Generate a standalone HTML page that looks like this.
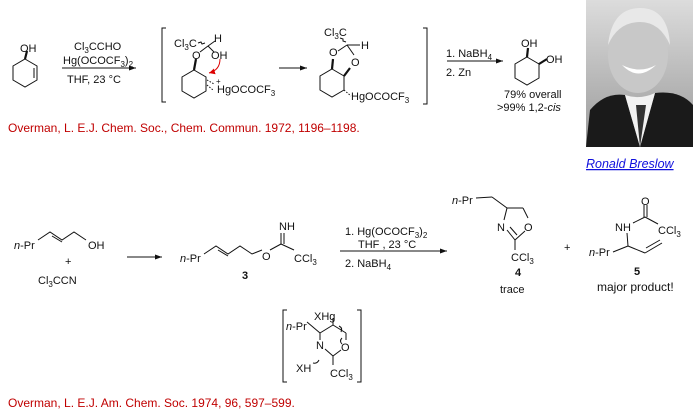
<!DOCTYPE html>
<html><head><meta charset="utf-8"><style>
html,body{margin:0;padding:0;background:#fff;}
svg{display:block;}
text{font-family:"Liberation Sans",Arial,sans-serif;font-size:11px;fill:#111;}
.s{font-size:8px;}
.r{fill:#c00000;font-size:12px;}
</style></head><body>
<svg width="700" height="413" viewBox="0 0 700 413" xmlns="http://www.w3.org/2000/svg">
<defs>
<marker id="ah" markerWidth="8" markerHeight="6" refX="7" refY="3" orient="auto"><path d="M0,0.5 L7,3 L0,5.5 Z" fill="#111"/></marker>
<marker id="rh" markerWidth="7" markerHeight="6" refX="6" refY="3" orient="auto"><path d="M0,0 L6,3 L0,6 Z" fill="#d00"/></marker>
<linearGradient id="bg" x1="0" y1="0" x2="0" y2="1"><stop offset="0" stop-color="#dcdcdc"/><stop offset="1" stop-color="#9a9a9a"/></linearGradient>
</defs>
<g stroke="#111" stroke-width="1" fill="none">
<polygon points="25,59 37,66 37,80 25,87 13,80 13,66"/>
<line x1="34" y1="68" x2="34" y2="78"/>
<line x1="25" y1="59" x2="27" y2="51" stroke-width="2.2"/>
<line x1="62" y1="68" x2="136" y2="68" marker-end="url(#ah)"/>
<polyline points="166,28 162,28 162,102 166,102"/>
<polygon points="194,70 206,77 206,91 194,98 182,91 182,77"/>
<line x1="194" y1="70" x2="196" y2="59" stroke-width="2.2"/>
<line x1="200" y1="52" x2="208" y2="46"/>
<line x1="208" y1="46" x2="215" y2="41"/>
<line x1="208" y1="46" x2="214" y2="52"/>
<path d="M198,43 l3,-1 l1,2 l3,-1" />
<line x1="207" y1="80" x2="214" y2="84" stroke-dasharray="1.5,1.5"/>
<line x1="207" y1="85" x2="213" y2="90" stroke-dasharray="1.5,1.5"/>
<path d="M220,59 Q220,70 209,73" stroke="#d00" marker-end="url(#rh)"/>
<line x1="279" y1="68" x2="307" y2="68" marker-end="url(#ah)"/>
<polygon points="332,69 344,76 344,90 332,97 320,90 320,76"/>
<line x1="332" y1="69" x2="333" y2="59" stroke-width="2.2"/>
<line x1="344" y1="76" x2="350" y2="68" stroke-width="2.2"/>
<line x1="338" y1="51" x2="347" y2="45"/>
<line x1="347" y1="45" x2="354" y2="55"/>
<line x1="347" y1="45" x2="360" y2="45"/>
<path d="M340,38 l3,1 l0,2 l3,1"/>
<line x1="344" y1="90" x2="351" y2="96" stroke-dasharray="1.5,1.5"/>
<polyline points="423,28 427,28 427,104 423,104"/>
<line x1="447" y1="61" x2="503" y2="61" marker-end="url(#ah)"/>
<polygon points="527,57 539,64 539,78 527,85 515,78 515,64"/>
<line x1="527" y1="57" x2="528" y2="48" stroke-width="2.2"/>
<line x1="539" y1="64" x2="547" y2="59" stroke-width="2.2"/>
<polyline points="38,240 50,232 62,240 74,232 86,240"/>
<line x1="52" y1="236" x2="62" y2="242"/>
<line x1="127" y1="257" x2="162" y2="257" marker-end="url(#ah)"/>
<polyline points="204,254 216,246 228,254 240,246 252,254 262,250"/>
<line x1="218" y1="250" x2="228" y2="256"/>
<line x1="270" y1="250" x2="281" y2="244"/>
<line x1="281" y1="244" x2="294" y2="250"/>
<line x1="281" y1="244" x2="281" y2="233"/>
<line x1="284" y1="244" x2="284" y2="233"/>
<line x1="340" y1="251" x2="447" y2="251" marker-end="url(#ah)"/>
<!-- compound 4 -->
<line x1="476" y1="198" x2="492" y2="197"/>
<line x1="492" y1="197" x2="507" y2="208"/>
<line x1="507" y1="208" x2="523" y2="208"/>
<line x1="523" y1="208" x2="528" y2="218"/>
<line x1="507" y1="208" x2="504" y2="220"/>
<line x1="507" y1="230" x2="515" y2="240"/>
<line x1="510" y1="227" x2="517" y2="235"/>
<line x1="515" y1="240" x2="525" y2="231"/>
<line x1="515" y1="240" x2="515" y2="250"/>
<!-- compound 5 -->
<line x1="644" y1="205" x2="644" y2="217"/>
<line x1="647" y1="205" x2="647" y2="217"/>
<line x1="645" y1="217" x2="633" y2="223"/>
<line x1="645" y1="217" x2="658" y2="224"/>
<line x1="627" y1="233" x2="628" y2="246"/>
<line x1="628" y1="246" x2="613" y2="252"/>
<line x1="628" y1="246" x2="645" y2="253"/>
<line x1="645" y1="253" x2="662" y2="243"/>
<line x1="646" y1="248" x2="660" y2="240"/>
<polyline points="287,310 283,310 283,382 287,382"/>
<polyline points="357,310 361,310 361,382 357,382"/>
<line x1="307" y1="322" x2="320" y2="333"/>
<line x1="320" y1="333" x2="333" y2="325"/>
<line x1="333" y1="325" x2="333" y2="318"/>
<line x1="333" y1="325" x2="346" y2="333"/>
<line x1="346" y1="333" x2="346" y2="340"/>
<line x1="320" y1="333" x2="320" y2="340"/>
<line x1="325" y1="349" x2="333" y2="356"/>
<line x1="333" y1="356" x2="341" y2="350"/>
<line x1="333" y1="356" x2="333" y2="365"/>
<path d="M339,326 q4,2 2,6"/>
<path d="M342,344 q-3,-3 0,-6"/>
<path d="M319,360 q-2,4 -6,3"/>
</g>
<text x="20" y="52">OH</text>
<text x="74" y="50">Cl<tspan class="s" dy="3">3</tspan><tspan dy="-3">CCHO</tspan></text>
<text x="63" y="64">Hg(OCOCF<tspan class="s" dy="3">3</tspan><tspan dy="-3">)</tspan><tspan class="s" dy="3">2</tspan></text>
<text x="67" y="83">THF, 23 °C</text>
<text x="174" y="47">Cl<tspan class="s" dy="3">3</tspan><tspan dy="-3">C</tspan></text>
<text x="214" y="42">H</text>
<text x="192" y="59">O</text>
<text x="211" y="59">OH</text>
<text x="216" y="84" class="s">+</text>
<text x="217" y="93">HgOCOCF<tspan class="s" dy="3">3</tspan></text>
<text x="324" y="36">Cl<tspan class="s" dy="3">3</tspan><tspan dy="-3">C</tspan></text>
<text x="361" y="49">H</text>
<text x="329" y="56">O</text>
<text x="351" y="66">O</text>
<text x="351" y="100">HgOCOCF<tspan class="s" dy="3">3</tspan></text>
<text x="446" y="57">1. NaBH<tspan class="s" dy="3">4</tspan></text>
<text x="446" y="76">2. Zn</text>
<text x="521" y="47">OH</text>
<text x="546" y="63">OH</text>
<text x="504" y="98">79% overall</text>
<text x="497" y="111">&gt;99% 1,2-<tspan font-style="italic">cis</tspan></text>
<text x="8" y="132" class="r">Overman, L. E.J. Chem. Soc., Chem. Commun. 1972, 1196–1198.</text>
<rect x="586" y="0" width="107" height="147" fill="url(#bg)"/>
<ellipse cx="638" cy="55" rx="30" ry="38" fill="#c8c8c8"/>
<path d="M608,45 Q612,8 640,8 Q668,8 670,45 Q660,22 640,22 Q618,22 608,45Z" fill="#e8e8e8"/>
<path d="M586,147 L590,110 Q605,92 625,95 L640,147Z" fill="#1a1a1a"/>
<path d="M693,147 L693,105 Q680,90 655,93 L640,147Z" fill="#1a1a1a"/>
<path d="M625,95 L640,147 L655,93 Q640,100 625,95Z" fill="#f2f2f2"/>
<path d="M636,105 L640,147 L646,105Z" fill="#333"/>
<path d="M622,65 Q638,82 656,65 Q640,74 622,65Z" fill="#fff"/>
<text x="586" y="168" style="font-size:12.5px;fill:#1010dd;font-style:italic" text-decoration="underline">Ronald Breslow</text>
<text x="14" y="249"><tspan font-style="italic">n</tspan>-Pr</text>
<text x="88" y="249">OH</text>
<text x="65" y="265">+</text>
<text x="38" y="284">Cl<tspan class="s" dy="3">3</tspan><tspan dy="-3">CCN</tspan></text>
<text x="180" y="262"><tspan font-style="italic">n</tspan>-Pr</text>
<text x="262" y="260">O</text>
<text x="279" y="230">NH</text>
<text x="294" y="262">CCl<tspan class="s" dy="3">3</tspan></text>
<text x="242" y="279" font-weight="bold">3</text>
<text x="345" y="235">1. Hg(OCOCF<tspan class="s" dy="3">3</tspan><tspan dy="-3">)</tspan><tspan class="s" dy="3">2</tspan></text>
<text x="358" y="248">THF , 23 °C</text>
<text x="345" y="267">2. NaBH<tspan class="s" dy="3">4</tspan></text>
<text x="452" y="204"><tspan font-style="italic">n</tspan>-Pr</text>
<text x="497" y="231">N</text>
<text x="524" y="231">O</text>
<text x="511" y="261">CCl<tspan class="s" dy="3">3</tspan></text>
<text x="515" y="276" font-weight="bold">4</text>
<text x="500" y="293">trace</text>
<text x="564" y="251">+</text>
<text x="641" y="205">O</text>
<text x="615" y="231">NH</text>
<text x="658" y="234">CCl<tspan class="s" dy="3">3</tspan></text>
<text x="589" y="256"><tspan font-style="italic">n</tspan>-Pr</text>
<text x="634" y="275" font-weight="bold">5</text>
<text x="597" y="291" style="font-size:12px">major product!</text>
<text x="314" y="320">XHg</text>
<text x="286" y="330"><tspan font-style="italic">n</tspan>-Pr</text>
<text x="316" y="349">N</text>
<text x="341" y="351">O</text>
<text x="296" y="372">XH</text>
<text x="330" y="377">CCl<tspan class="s" dy="3">3</tspan></text>
<text x="8" y="407" class="r">Overman, L. E.J. Am. Chem. Soc. 1974, 96, 597–599.</text>
</svg>
</body></html>
